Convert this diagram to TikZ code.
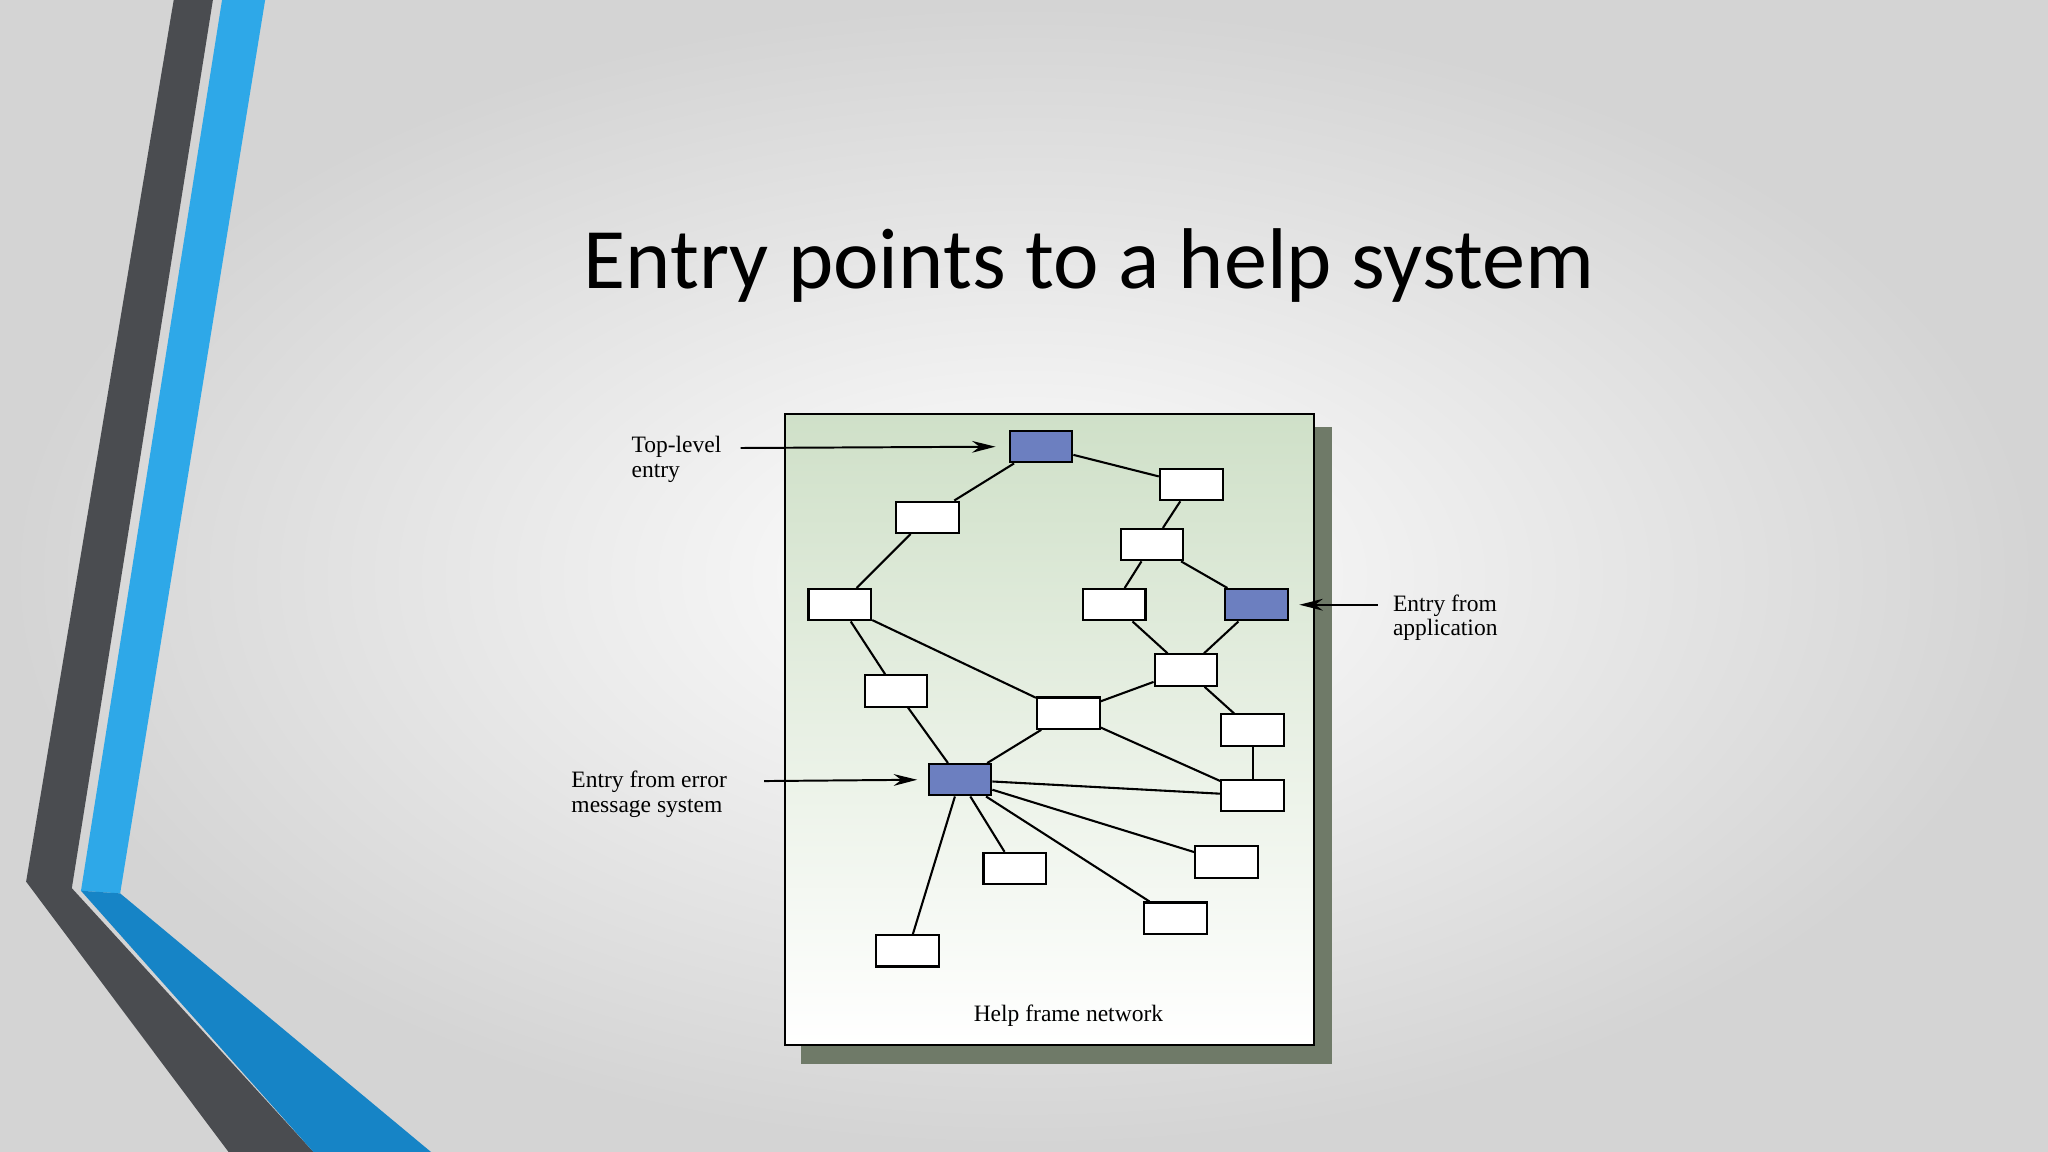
\documentclass[tikz,border=0pt]{standalone}
\usepackage{fontspec}
\setmainfont{Liberation Serif}
\newfontfamily\titlefont{Carlito}
\usetikzlibrary{arrows.meta}
\definecolor{bluebox}{HTML}{6C7FC0}
\definecolor{shadowc}{HTML}{6F7A68}
\definecolor{darkband}{HTML}{4A4C50}
\definecolor{blueband}{HTML}{2EA8E8}
\definecolor{bluelow}{HTML}{1684C6}
\begin{document}
\begin{tikzpicture}[x=1pt,y=-1pt,
  hbox/.style={draw,line width=1.6pt,fill=white,minimum width=48pt,minimum height=24pt,inner sep=0pt},
  ebox/.style={hbox,fill=bluebox},
  link/.style={line width=1.6pt},
  lbl/.style={font=\fontsize{18}{19}\selectfont,align=left,anchor=west},
  arr/.style={line width=1.5pt,-{Stealth[length=18pt,width=9pt]}}]
\useasboundingbox (0,0) rectangle (1568,882);
\shade[inner color=white,outer color=black!17] (0,0) rectangle (1568,882);
% left bands
\fill[darkband] (133,0) -- (163,0) -- (55,680) -- (240,882) -- (175,882) -- (20,675) -- cycle;
\fill[blueband] (170,0) -- (203,0) -- (92,684) -- (62,682) -- cycle;
\fill[bluelow] (62,682) -- (92,684) -- (330,882) -- (240,882) -- cycle;
\node[font=\titlefont\fontsize{66}{68}\selectfont] (title) at (834,203) {Entry points to a help system};
% frame
\fill[shadowc] (613,327) rectangle (1020,815);
\shade[top color={rgb,255:red,207;green,224;blue,200},bottom color=white,middle color={rgb,255:red,232;green,240;blue,228}] (601,317) rectangle (1006,800);
\draw[line width=1.8pt] (601,317) rectangle (1006,800);
\node[ebox] (top) at (797,342) {};
\node[hbox] (b1) at (912,371) {};
\node[hbox] (b2) at (710,396) {};
\node[hbox] (b3) at (882,417) {};
\node[hbox] (b4) at (643,463) {};
\node[hbox] (b5) at (853,463) {};
\node[ebox] (app) at (962,463) {};
\node[hbox] (b6) at (908,513) {};
\node[hbox] (b7) at (686,529) {};
\node[hbox] (c) at (818,546) {};
\node[hbox] (b8) at (959,559) {};
\node[ebox] (err) at (735,597) {};
\node[hbox] (b9) at (959,609) {};
\node[hbox] (b10) at (939,660) {};
\node[hbox] (b11) at (777,665) {};
\node[hbox] (b12) at (900,703) {};
\node[hbox] (b13) at (695,728) {};
\foreach \a/\b in {top/b1,top/b2,b2/b4,b1/b3,b3/b5,b3/app,b5/b6,app/b6,b6/c,b6/b8,b8/b9,b4/c,b4/b7,b7/err,c/err,c/b9,err/b9,err/b10,err/b11,err/b12,err/b13}
  \draw[link] (\a) -- (\b);
\node[lbl] (l1) at (480,352) {Top-level\\entry};
\node[lbl] (l2) at (1063,473) {Entry from\\application};
\node[lbl] (l3) at (434,608) {Entry from error\\message system};
\node[font=\fontsize{18}{19}\selectfont] (net) at (818,778) {Help frame network};
\coordinate (a1) at (567,343);
\coordinate (a2) at (1055,463);
\coordinate (a3) at (585,598);
\draw[arr] (a1) -- ([xshift=-10pt]top.west);
\draw[arr] (a2) -- ([xshift=8pt]app.east);
\draw[arr] (a3) -- ([xshift=-8pt]err.west);
\end{tikzpicture}
\end{document}
